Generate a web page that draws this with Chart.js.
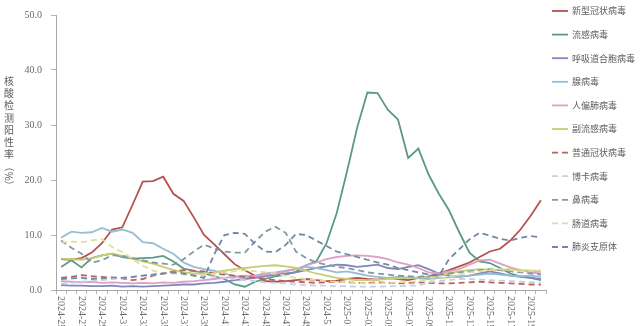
<!DOCTYPE html>
<html>
<head>
<meta charset="utf-8">
<script src="https://cdn.jsdelivr.net/npm/chart.js@4.4.1/dist/chart.umd.min.js"></script>
<style>
  html, body { margin: 0; padding: 0; background: #fff; overflow: hidden; }
  canvas { display: block; }
</style>
</head>
<body>
<canvas id="chart" width="640" height="326"></canvas>
<script>
// Surveillance weeks (ISO year-week)
const weeks = [
  '2024-25','2024-26','2024-27','2024-28','2024-29','2024-30','2024-31','2024-32',
  '2024-33','2024-34','2024-35','2024-36','2024-37','2024-38','2024-39','2024-40',
  '2024-41','2024-42','2024-43','2024-44','2024-45','2024-46','2024-47','2024-48',
  '2024-49','2024-50','2024-51','2024-52','2025-01','2025-02','2025-03','2025-04',
  '2025-05','2025-06','2025-07','2025-08','2025-09','2025-10','2025-11','2025-12',
  '2025-13','2025-14','2025-15','2025-16','2025-17','2025-18','2025-19','2025-20'
];

// Nucleic-acid positivity rate (%) per pathogen
const sarsCov2 = [5.6,5.5,5.8,6.8,8.5,11.0,11.4,15.5,19.7,19.8, 20.6,17.5,16.2,13.2,10.0,8.3,6.5,4.7,3.6,2.6, 1.6,1.5,1.6,1.8,2.0,1.8,1.6,1.7,2.0,2.2, 2.0,1.9,2.2,2.0,1.8,2.2,2.4,3.0,3.6,4.3, 5.0,6.0,7.0,7.5,9.0,11.0,13.5,16.3];
const influenza = [4.2,5.4,4.1,5.8,6.3,6.6,6.0,5.7,5.8,5.9, 6.2,5.2,3.9,3.5,3.0,2.5,2.0,1.0,0.6,1.5, 2.0,2.5,2.8,3.3,4.5,5.2,8.5,14.0,21.5,29.5, 35.9,35.8,32.8,31.0,24.0,25.7,21.0,17.5,14.5,10.5, 6.8,5.2,4.9,4.0,3.0,2.5,2.2,1.8];
const rsv = [0.9,0.8,0.8,0.7,0.7,0.8,0.6,0.7,0.6,0.7, 0.8,0.9,1.0,1.0,1.2,1.3,1.5,1.8,2.0,2.2, 2.5,2.8,3.0,3.2,3.6,4.0,4.3,4.6,4.5,4.2, 4.4,4.6,4.0,3.8,4.2,4.5,3.8,3.0,2.6,2.4, 2.6,3.0,3.4,3.0,2.6,2.4,2.2,2.0];
const adenovirus = [9.5,10.6,10.4,10.5,11.3,10.6,11.0,10.4,8.7,8.5, 7.5,6.6,5.0,4.2,3.8,3.5,3.0,2.5,2.2,2.6, 3.0,3.2,3.5,3.8,4.2,4.0,3.6,3.2,3.4,3.0, 2.6,2.4,2.2,2.4,2.3,2.1,2.0,2.2,2.3,2.5, 2.6,2.8,3.0,2.8,2.6,2.5,2.6,2.4];
const hmpv = [1.6,1.5,1.4,1.5,1.3,1.4,1.3,1.2,1.3,1.2, 1.4,1.3,1.5,1.6,1.8,2.0,2.2,2.4,2.6,2.5, 2.8,3.0,3.4,3.8,4.5,5.0,5.6,6.0,6.2,6.3, 6.2,6.0,5.6,5.0,4.6,4.0,3.2,3.0,3.4,3.8, 4.6,5.4,5.5,4.8,4.1,3.6,3.2,3.0];
const parainfluenza = [5.7,5.6,5.5,5.8,6.3,6.6,6.2,5.8,5.2,4.8, 4.2,3.6,3.2,3.0,3.0,3.2,3.5,3.8,4.0,4.2, 4.4,4.5,4.3,4.0,3.5,3.0,2.6,2.2,2.0,1.8, 1.8,1.9,2.0,2.1,2.2,2.3,2.4,2.6,3.0,3.4, 3.6,3.8,3.7,3.6,3.8,3.6,3.5,3.4];
const seasonalCov = [2.2,2.4,2.7,2.5,2.4,2.2,2.1,1.8,2.0,2.6, 3.0,3.4,3.6,3.5,3.4,3.0,2.8,2.6,2.4,2.2, 2.0,1.8,1.6,1.5,1.4,1.3,1.4,1.5,1.4,1.3, 1.3,1.4,1.3,1.2,1.3,1.4,1.3,1.2,1.2,1.3, 1.4,1.5,1.4,1.3,1.2,1.1,1.0,1.0];
const bocavirus = [1.2,1.3,1.5,1.6,1.8,2.0,2.2,2.4,2.6,2.8, 3.0,3.2,3.0,2.8,2.6,2.4,2.2,2.0,1.8,1.6, 1.4,1.3,1.2,1.0,0.9,0.8,0.8,0.7,0.7,0.6, 0.6,0.6,0.7,0.7,0.8,0.8,1.4,1.6,1.8,2.0, 2.0,1.9,1.8,1.7,1.6,1.5,1.4,1.3];
const rhinovirus = [9.0,7.7,6.6,5.0,5.4,6.3,6.2,5.8,5.4,5.0, 4.8,4.6,5.6,7.0,8.2,7.6,7.0,6.8,6.8,8.8, 10.6,11.5,10.4,7.0,5.8,5.0,4.6,4.2,4.0,3.6, 3.2,3.0,2.8,2.6,2.5,2.4,2.6,2.8,3.0,3.2, 3.4,3.6,3.8,3.6,3.4,3.2,3.0,2.8];
const enterovirus = [8.6,8.8,8.7,9.0,9.3,7.8,6.9,5.6,4.4,3.5, 3.1,3.0,2.8,2.6,2.8,3.0,3.2,3.4,3.6,3.4, 3.2,3.0,2.6,2.2,2.0,1.8,1.6,1.5,1.4,1.3, 1.2,1.2,1.3,1.4,1.5,1.6,1.8,2.0,2.4,2.8, 3.2,3.4,3.6,3.8,3.6,3.4,3.5,3.6];
const mycoplasma = [2.0,2.1,2.2,2.0,2.1,2.3,2.2,2.4,2.6,2.8, 3.0,3.2,3.0,2.6,2.2,6.5,10.0,10.4,10.2,8.4, 7.0,6.9,8.2,10.2,10.0,9.0,8.0,7.0,6.5,6.0, 5.5,5.0,4.6,4.0,3.6,3.2,2.8,2.6,5.6,7.4, 9.2,10.4,9.9,9.3,9.0,9.5,9.8,9.6];

const seriesNames = ['新型冠状病毒','流感病毒','呼吸道合胞病毒','腺病毒','人偏肺病毒','副流感病毒','普通冠状病毒','博卡病毒','鼻病毒','肠道病毒','肺炎支原体'];
const seriesValues = [sarsCov2, influenza, rsv, adenovirus, hmpv, parainfluenza, seasonalCov, bocavirus, rhinovirus, enterovirus, mycoplasma];
const seriesColors = ['#b5524f','#5a9a86','#8088bb','#98bcd6','#dba0c4','#c8cc72','#c0605a','#c2d2e2','#7f9aa0','#e4dc9c','#7088a8'];
const seriesDashed = [false,false,false,false,false,false,true,true,true,true,true];

const yTitle = '核酸检测阳性率（%）';

const datasets = seriesNames.map((name, k) => ({
  label: name,
  data: seriesValues[k],
  borderColor: seriesColors[k],
  backgroundColor: seriesColors[k],
  borderWidth: 1.8,
  borderDash: seriesDashed[k] ? [6, 4] : [],
  pointRadius: 0,
  tension: 0,
  fill: false,
  order: seriesNames.length - k
}));

// Rotated week labels, vertical axis title and the right-hand legend
const decorations = {
  id: 'decorations',
  afterDraw(chart) {
    const ctx = chart.ctx;
    const xs = chart.scales.x;

    ctx.save();
    ctx.fillStyle = '#6a6a6a';
    ctx.font = '10px "Liberation Serif"';
    ctx.textAlign = 'left';
    ctx.textBaseline = 'middle';
    weeks.forEach((w, i) => {
      if (i % 2) return;
      const px = xs.getPixelForValue(i);
      ctx.save();
      ctx.translate(px, xs.top + 6);
      ctx.rotate(Math.PI / 2);
      ctx.fillText(w, 0, 0);
      ctx.restore();
    });
    ctx.restore();

    // vertical title: upright characters stacked, bracketed unit turned sideways
    ctx.save();
    ctx.fillStyle = '#5c5c5c';
    ctx.font = '10px "Noto Sans CJK SC"';
    ctx.textAlign = 'center';
    ctx.textBaseline = 'middle';
    const chars = Array.from(yTitle.replace('（%）', ''));
    chars.forEach((c, k) => ctx.fillText(c, 9, 81.5 + 12.1 * k));
    ctx.translate(9, 176);
    ctx.rotate(Math.PI / 2);
    ctx.font = '10px "Noto Sans CJK SC"';
    ctx.fillText('（%）', 0, 0);
    ctx.restore();

    // legend
    ctx.save();
    chart.data.datasets.forEach((ds, k) => {
      const y = 11 + 23.6 * k;
      ctx.strokeStyle = ds.borderColor;
      ctx.lineWidth = 1.8;
      ctx.setLineDash(ds.borderDash.length ? [6, 4] : []);
      ctx.beginPath();
      ctx.moveTo(552, y);
      ctx.lineTo(568, y);
      ctx.stroke();
      ctx.setLineDash([]);
      ctx.fillStyle = '#5c5c5c';
      ctx.font = '9px "Noto Sans CJK SC"';
      ctx.textAlign = 'left';
      ctx.textBaseline = 'middle';
      ctx.fillText(ds.label, 572, y);
    });
    ctx.restore();
  }
};

new Chart(document.getElementById('chart'), {
  type: 'line',
  data: { labels: weeks, datasets },
  options: {
    responsive: false,
    animation: false,
    layout: { padding: { left: 0, right: 94, top: 12, bottom: 0 } },
    plugins: { legend: { display: false }, tooltip: { enabled: false } },
    scales: {
      x: {
        type: 'category',
        offset: true,
        grid: { offset: true, drawOnChartArea: false, tickLength: 4, color: '#b4b4b4' },
        border: { color: '#a8a8a8' },
        ticks: { display: false },
        afterFit(scale) { scale.height = 36; }
      },
      y: {
        min: 0,
        max: 50,
        ticks: {
          stepSize: 10,
          padding: 9,
          color: '#6a6a6a',
          font: { family: 'Liberation Serif', size: 10 },
          callback: v => Number(v).toFixed(1)
        },
        grid: { drawOnChartArea: false, tickLength: 5, color: '#b4b4b4' },
        border: { color: '#a8a8a8' },
        afterFit(scale) { scale.width = 56; }
      }
    }
  },
  plugins: [decorations]
});
</script>
</body>
</html>
